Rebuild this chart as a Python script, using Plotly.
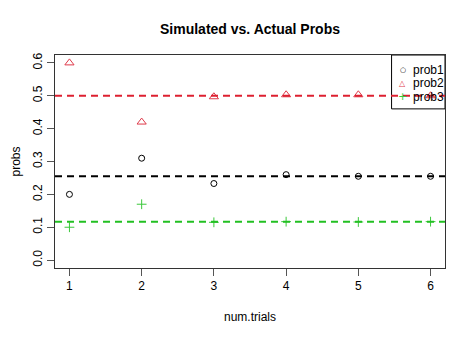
import plotly.graph_objects as go

# simulated probabilities per number of trials
num_trials = [1, 2, 3, 4, 5, 6]
prob1 = [0.200, 0.310, 0.233, 0.260, 0.255, 0.255]
prob2 = [0.600, 0.420, 0.497, 0.503, 0.503, 0.500]
prob3 = [0.100, 0.170, 0.115, 0.117, 0.116, 0.117]

# actual (theoretical) probabilities
actual = {"prob1": 0.255, "prob2": 0.500, "prob3": 0.117}

y_ticks = [0.0, 0.1, 0.2, 0.3, 0.4, 0.5, 0.6]
x_ticks = [1, 2, 3, 4, 5, 6]
series_names = ["prob1", "prob2", "prob3"]

FONT = "Liberation Sans, Arial, sans-serif"
styles = {
    "prob1": dict(marker="#000000", line="#000000", symbol="circle-open", size=6,
                  glyph="○", gsize=7),
    "prob2": dict(marker="#DF3A4A", line="#DD2030", symbol="triangle-up-open", size=8,
                  glyph="△", gsize=8),
    "prob3": dict(marker="#3CC83C", line="#22C022", symbol="cross-thin-open", size=7,
                  glyph="+", gsize=11),
}

fig = go.Figure()

for name, vals in zip(series_names, [prob1, prob2, prob3]):
    st = styles[name]
    fig.add_trace(go.Scatter(
        x=num_trials, y=vals, mode="markers", name=name, showlegend=False,
        marker=dict(symbol=st["symbol"], size=st["size"], color=st["marker"],
                    line=dict(width=1, color=st["marker"])),
    ))

# compact legend box in the top-right corner of the plot area
leg_left, leg_bottom = 0.863, 0.747
leg_glyph_x, leg_text_x = 0.8915, 0.913
leg_rows = [0.930, 0.868, 0.805]
fig.add_shape(type="rect", xref="paper", yref="paper",
              x0=leg_left, x1=1.0, y0=leg_bottom, y1=1.0,
              line=dict(color="#000000", width=1), fillcolor="white", layer="below")
for name, row in zip(series_names, leg_rows):
    st = styles[name]
    fig.add_annotation(xref="paper", yref="paper", x=leg_glyph_x, y=row,
                       text=st["glyph"], showarrow=False, xanchor="center",
                       yanchor="middle",
                       font=dict(size=st["gsize"], color=st["marker"],
                                 family="DejaVu Sans"))
    fig.add_annotation(xref="paper", yref="paper", x=leg_text_x, y=row,
                       text=name, showarrow=False, xanchor="left", yanchor="middle",
                       font=dict(size=12, color="#000000", family=FONT))

# horizontal dashed reference lines at the actual probabilities
for name, val in actual.items():
    fig.add_hline(y=val, line=dict(color=styles[name]["line"], width=2, dash="7px,5px"),
                  layer="above")

axis_common = dict(
    showline=True, linecolor="#333333", linewidth=1, mirror=True,
    ticks="outside", ticklen=7, tickcolor="#555555", tickwidth=1,
    showgrid=False, zeroline=False,
    tickfont=dict(size=12, color="#000000", family=FONT),
)

fig.update_layout(
    width=474, height=338,
    margin=dict(l=55, r=29, t=55, b=70),
    paper_bgcolor="white", plot_bgcolor="white",
    font=dict(family=FONT, size=12, color="#000000"),
    title=dict(text="<b>Simulated vs. Actual Probs</b>", x=0.5, xref="paper",
               y=0.915, yref="container", yanchor="middle",
               font=dict(size=14, family=FONT, color="#000000")),
    xaxis=dict(range=[0.8, 6.2], tickvals=x_ticks, ticktext=[str(v) for v in x_ticks],
               title=dict(text="num.trials", standoff=20, font=dict(size=12)),
               **axis_common),
    yaxis=dict(range=[-0.024, 0.624], tickvals=y_ticks,
               ticktext=[f"{v:.1f}" for v in y_ticks], tickangle=-90,
               title=dict(text="probs", standoff=8, font=dict(size=12)),
               **axis_common),
    showlegend=False,
)

fig.write_html("out.html")
